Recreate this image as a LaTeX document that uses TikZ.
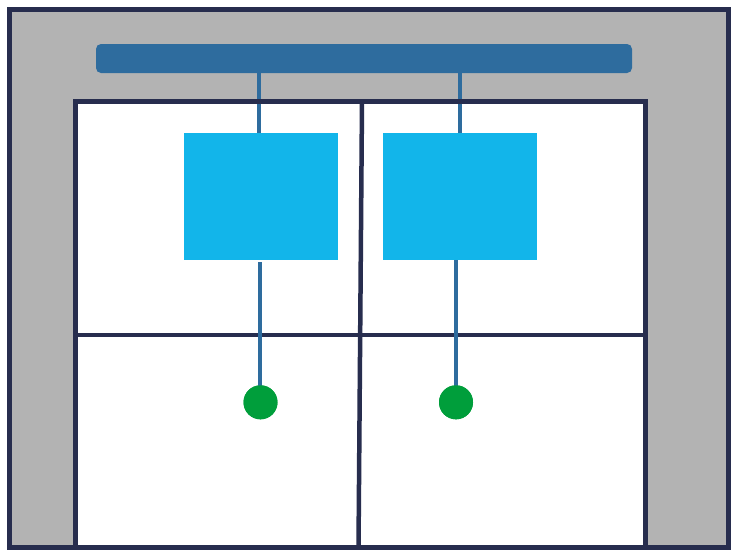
\documentclass[tikz,border=0pt]{standalone}
\usetikzlibrary{calc}
\definecolor{framegray}{HTML}{B3B3B3}
\definecolor{navy}{HTML}{272D4E}
\definecolor{barblue}{HTML}{2E6C9E}
\definecolor{lightblue}{HTML}{12B5EA}
\definecolor{dotgreen}{HTML}{009E3B}
\tikzset{
  frame/.style={draw=navy, line width=5pt},
  divider/.style={draw=navy, line width=4.5pt},
  rod/.style={draw=barblue, line width=4pt},
  panel/.style={fill=lightblue, draw=none, inner sep=0pt, minimum width=154pt, minimum height=127pt},
  knob/.style={circle, fill=dotgreen, draw=none, inner sep=0pt, minimum size=34pt},
  rail/.style={fill=barblue, draw=none, rounded corners=5pt, inner sep=0pt, minimum width=536pt, minimum height=29pt}
}
\begin{document}
\begin{tikzpicture}[x=1pt, y=-1pt]
\useasboundingbox (0,0) rectangle (735,555);
% outer frame
\fill[framegray] (9.5,9.5) rectangle (728.5,547.5);
\fill[white] (75.5,101.5) rectangle (645,547.5);
% rail and panels
\node[rail] (bar) at (364,58.5) {};
\node[panel] (p1) at (261,196.5) {};
\node[panel] (p2) at (459.5,196.5) {};
\node[knob] (k1) at (260.5,402.3) {};
\node[knob] (k2) at (456,402.3) {};
% upper rods (behind the frame)
\coordinate (t1) at (259,101.5);
\coordinate (t2) at (459.5,101.5);
\draw[rod] (bar.south -| t1) -- (p1.north -| t1);
\draw[rod] (bar.south -| t2) -- (p2.north -| t2);
% frames
\draw[frame] (9.5,9.5) rectangle (728.5,547.5);
\draw[frame] (75.5,547.5) -- (75.5,101.5) -- (645,101.5) -- (645,547.5);
\coordinate (dtop) at (362,101.5);
\coordinate (dbot) at (358.5,547.5);
\draw[divider] (dtop) -- (dbot);
\draw[divider] (75.5,335) -- (645,335);
% lower rods
\coordinate (b1) at (260,262);
\coordinate (b2) at (456.3,260);
\draw[rod] (b1) -- (b1 |- k1.center);
\draw[rod] (b2) -- (b2 |- k2.center);
% redraw panels and knobs on top
\node[panel] at (p1) {};
\node[panel] at (p2) {};
\node[knob] at (k1) {};
\node[knob] at (k2) {};
\end{tikzpicture}
\end{document}
